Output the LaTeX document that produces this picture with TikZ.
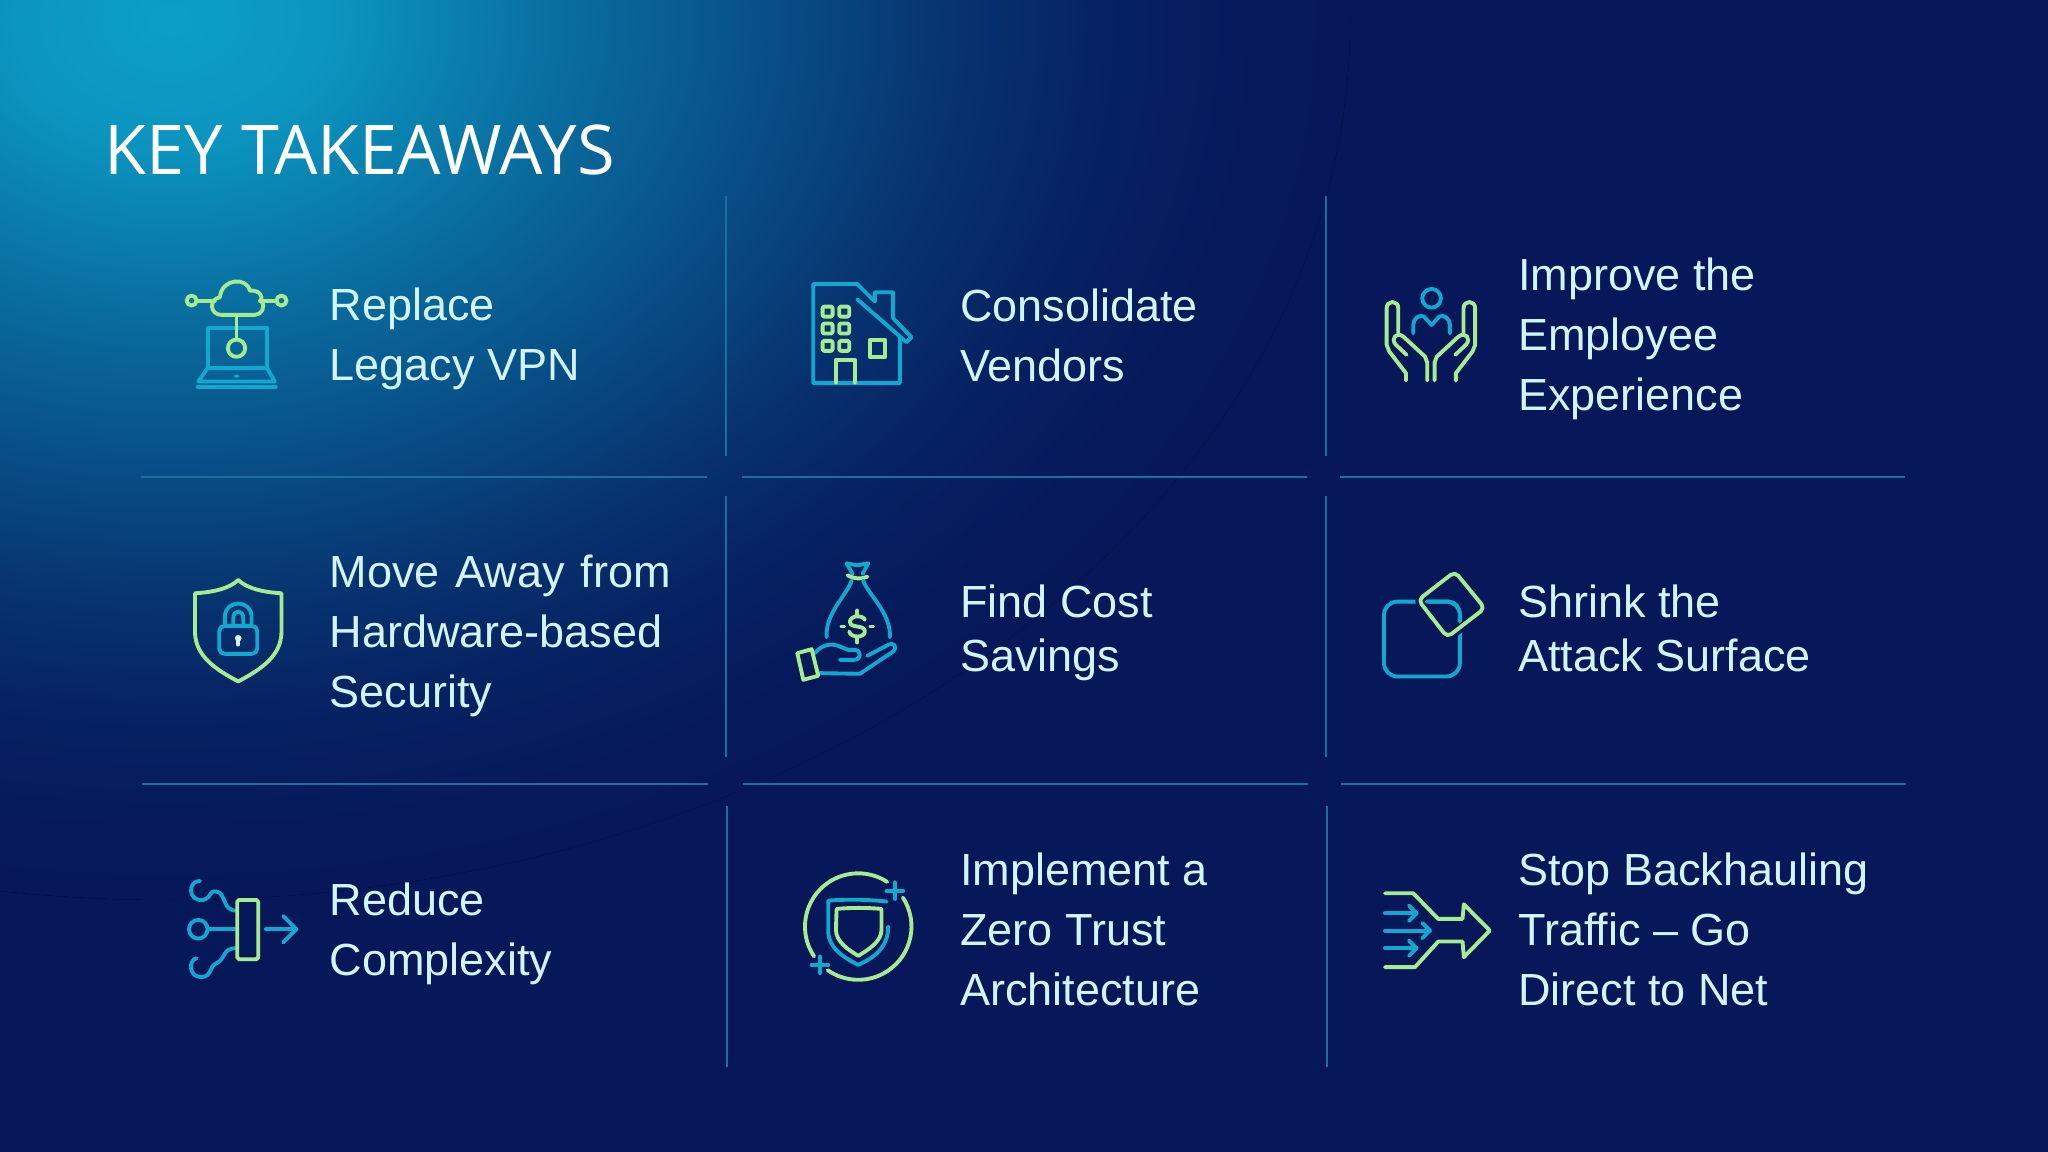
\documentclass[tikz,border=0pt]{standalone}
\usepackage{fontspec}
\setmainfont{Liberation Sans}
\newfontfamily\titlefont{Open Sans}
\definecolor{navybg}{HTML}{06185A}
\definecolor{glow}{HTML}{0B9FC8}
\definecolor{ruleline}{HTML}{1A6F9F}
\definecolor{tealicon}{HTML}{12A8CE}
\definecolor{greenicon}{HTML}{A6EB8F}
\definecolor{labeltext}{HTML}{D2F4FB}
\pgfdeclareradialshading{topglow}{\pgfpoint{0bp}{0bp}}{%
  color(0bp)=(glow); color(3.5bp)=(glow!92!navybg); color(8.5bp)=(glow!62!navybg);
  color(13.5bp)=(glow!36!navybg); color(17bp)=(glow!18!navybg); color(20bp)=(glow!7!navybg);
  color(23bp)=(glow!1!navybg); color(25bp)=(navybg); color(50bp)=(navybg)}
\tikzset{
  keylabel/.style={anchor=west,align=left,inner sep=0pt,text=labeltext,font=\fontsize{12.8}{17.07}\selectfont},
  tightlabel/.style={keylabel,font=\fontsize{12.8}{15.4}\selectfont},
  divider/.style={ruleline,line width=0.4pt},
  zoomed/.style={x=0.0033333cm,y=-0.0033333cm,line cap=round,line join=round,line width=1.1pt},
  teal/.style={tealicon},
  leaf/.style={greenicon}
}
\begin{document}
\begin{tikzpicture}[x=0.01cm,y=-0.01cm]
\useasboundingbox (0,0) rectangle (2048,1152);
\fill[navybg] (0,0) rectangle (2048,1152);
\begin{scope}
	\clip (0,0) rectangle (2048,1152);
	\fill[shading=topglow] (170,20) ellipse [x radius=1180,y radius=880];
\end{scope}

% dividers
\foreach \xpos in {726,1326} {
	\draw[divider] (\xpos,196) -- (\xpos,456);
	\draw[divider] (\xpos,496) -- (\xpos,757);
	\draw[divider] (\xpos+1,806) -- (\xpos+1,1067);
}
\foreach \xa/\xb in {141/707,742/1307,1340/1905} {
	\draw[divider] (\xa,477) -- (\xb,477);
	\draw[divider] (\xa+1,784) -- (\xb+1,784);
}

\node[anchor=west,inner sep=0pt,text=white,font=\titlefont\fontsize{19.5}{23}\selectfont] (title) at (104,150) {KEY TAKEAWAYS};

\node[keylabel] (vpn) at (329,339) {Replace\\Legacy VPN};
\node[keylabel] (vendors) at (959.5,335) {Consolidate\\Vendors};
\node[keylabel] (employee) at (1517.5,339) {Improve the\\Employee\\Experience};
\node[keylabel] (hardware) at (329,636) {Move\hspace{0.95pt} Away\hspace{0.95pt} from\\Hardware-based\\Security};
\node[tightlabel] (savings) at (959.5,633) {Find Cost\\Savings};
\node[tightlabel] (surface) at (1517.5,628) {Shrink the\\Attack Surface};
\node[keylabel] (complexity) at (329,934) {Reduce\\Complexity};
\node[keylabel] (zerotrust) at (959.5,929) {Implement a\\Zero Trust\\Architecture};
\node[keylabel] (backhaul) at (1517.5,929) {Stop Backhauling\\Traffic -- Go\\Direct to Net};

% cloud over laptop
\begin{scope}[shift={(160,260)},zoomed]
	\draw[teal] (143,325) -- (143,205) -- (322,205) -- (322,325);
	\draw[teal] (143,325) -- (322,325) -- (345,365) -- (115,365) -- cycle;
	\draw[teal] (113,381) -- (348,381);
	\fill[teal] (230,349) ellipse [x radius=9,y radius=5];
	\draw[leaf] (95,122) circle [radius=15];
	\draw[leaf] (365,122) circle [radius=15];
	\draw[leaf] (110,122) -- (165,122);
	\draw[leaf] (300,122) -- (350,122);
	\draw[leaf] (185,165) .. controls (150,165) and (145,118) .. (180,112) .. controls (185,55) and (260,50) .. (270,92) .. controls (300,90) and (310,110) .. (303,122) .. controls (320,140) and (305,165) .. (285,165) -- cycle;
	\draw[leaf] (230,165) -- (230,238);
	\draw[leaf] (230,265) circle [radius=26];
\end{scope}

% building
\begin{scope}[shift={(780,260)},zoomed]
	\draw[teal] (360,232) -- (360,370) -- (100,370) -- (100,72) -- (232,72) -- (285,125) -- (285,97) -- (340,97) -- (340,175) -- (395,232) -- (380,247) -- (232,118);
	\foreach \wx in {143,193} \foreach \wy in {155,206,258}
		\draw[leaf,rounded corners=0.4pt] (\wx-15,\wy-15) rectangle (\wx+15,\wy+15);
	\draw[leaf] (168,368) -- (168,300) -- (225,300) -- (225,368);
	\draw[leaf] (270,240) rectangle (315,292);
\end{scope}

% hands around person
\begin{scope}[shift={(1370,270)},zoomed]
	\draw[teal] (185,85) circle [radius=28];
	\draw[teal] (130,190) -- (130,165) .. controls (130,145) and (150,132) .. (162,140) -- (185,165) -- (208,140) .. controls (220,132) and (240,145) .. (240,165) -- (240,190);
	\foreach \flip/\mv in {1/0,-1/366} {
		\begin{scope}[shift={(\mv,0)},xscale=\flip]
			\draw[leaf] (108,332) -- (108,310) -- (58,245) -- (50,225) -- (50,115) .. controls (50,90) and (85,90) .. (85,115) -- (85,190);
			\draw[leaf] (110,255) -- (78,225) .. controls (60,205) and (80,185) .. (100,200) -- (165,260) -- (172,278) -- (172,332);
		\end{scope}
	}
\end{scope}

% shield with lock
\begin{scope}[shift={(180,560)},zoomed]
	\draw[leaf] (175,60) .. controls (150,85) and (100,97) .. (45,100) -- (45,215) .. controls (45,290) and (110,330) .. (175,365) .. controls (240,330) and (305,290) .. (305,215) -- (305,100) .. controls (250,97) and (200,85) .. (175,60) -- cycle;
	\draw[teal,rounded corners=1.5pt] (118,198) rectangle (232,282);
	\draw[teal] (135,198) -- (135,170) .. controls (135,118) and (215,118) .. (215,170) -- (215,198);
	\draw[teal] (160,198) -- (160,175) .. controls (160,148) and (190,148) .. (190,175) -- (190,198);
	\fill[labeltext] (175,235) circle [radius=10];
	\draw[labeltext] (175,238) -- (175,254);
\end{scope}

% money bag on hand
\begin{scope}[shift={(780,550)},zoomed]
	\draw[teal] (218,72) -- (200,40) -- (232,46) -- (265,40) -- (248,72);
	\draw[leaf] (203,76) .. controls (225,88) and (245,88) .. (263,80);
	\draw[teal] (215,92) .. controls (205,130) and (135,190) .. (140,262);
	\draw[teal] (250,92) .. controls (262,130) and (335,190) .. (330,262);
	\draw[leaf] (255,210) .. controls (250,195) and (212,195) .. (210,215) .. controls (210,238) and (255,222) .. (255,245) .. controls (255,265) and (212,265) .. (208,245);
	\draw[leaf] (232,182) -- (232,198);
	\draw[leaf] (232,262) -- (232,278);
	\draw[leaf] (185,230) -- (192,230);
	\draw[leaf] (272,230) -- (279,230);
	\draw[teal] (105,310) .. controls (125,285) and (150,280) .. (175,288) -- (205,300) -- (225,300) .. controls (245,302) and (245,328) .. (225,330) -- (180,330);
	\draw[teal] (120,370) -- (240,372) -- (340,305) .. controls (355,290) and (340,275) .. (325,285) -- (262,318);
	\draw[leaf] (52,310) -- (95,298) -- (115,378) -- (70,390) -- cycle;
\end{scope}

% overlapping squares
\begin{scope}[shift={(1370,560)},zoomed]
	\draw[teal,rounded corners=3.8pt] (42,125) rectangle (270,350);
	\draw[navybg,line width=3pt,rounded corners=1.5pt] (255,35) -- (345,145) -- (232,232) -- (145,120) -- cycle;
	\draw[teal] (170,125) -- (235,125) .. controls (255,125) and (270,140) .. (270,165) -- (270,185);
	\draw[leaf,rounded corners=1.5pt] (255,35) -- (345,145) -- (232,232) -- (145,120) -- cycle;
\end{scope}

% filter with arrow
\begin{scope}[shift={(180,870)},zoomed]
	\draw[teal] (258,178) -- (350,178);
	\draw[teal] (310,138) -- (350,178) -- (310,218);
	\draw[teal] (55,178) circle [radius=28];
	\draw[teal] (85,178) -- (170,178);
	\draw[teal] (60,33) .. controls (25,30) and (20,95) .. (70,90) .. controls (100,80) and (85,60) .. (110,65) .. controls (140,70) and (125,122) .. (170,122);
	\draw[teal] (50,265) .. controls (25,270) and (25,322) .. (65,322) .. controls (100,318) and (85,290) .. (110,280) .. controls (140,265) and (125,235) .. (170,235);
	\draw[leaf,rounded corners=0.5pt] (172,90) rectangle (235,268);
\end{scope}

% shield in ring
\begin{scope}[shift={(790,860)},zoomed]
	\draw[leaf] ([shift={(-33:160)}]205,200) arc [start angle=-33,end angle=125,radius=160];
	\draw[leaf] ([shift={(146:160)}]205,200) arc [start angle=146,end angle=303,radius=160];
	\draw[teal] (290,92) -- (340,92);
	\draw[teal] (315,67) -- (315,117);
	\draw[teal] (65,315) -- (115,315);
	\draw[teal] (90,290) -- (90,340);
	\draw[teal] (290,125) .. controls (230,118) and (170,118) .. (115,122) -- (115,215) .. controls (115,265) and (165,295) .. (205,315) .. controls (250,295) and (295,265) .. (295,200);
	\draw[leaf] (140,147) .. controls (180,143) and (235,143) .. (275,147) -- (275,210) .. controls (275,245) and (235,270) .. (205,288) .. controls (175,270) and (138,245) .. (138,210) -- cycle;
\end{scope}

% merging arrows
\begin{scope}[shift={(1370,870)},zoomed]
	\draw[leaf] (45,70) -- (130,70) -- (205,147) -- (278,147) -- (282,103) -- (360,182) -- (282,262) -- (278,215) -- (205,215) -- (135,292) -- (45,292);
	\foreach \ypos/\xtip in {130/140,182/180,235/140} {
		\draw[teal] (45,\ypos) -- (\xtip,\ypos);
		\draw[teal] (\xtip-23,\ypos-23) -- (\xtip,\ypos) -- (\xtip-23,\ypos+23);
	}
\end{scope}
\end{tikzpicture}
\end{document}
